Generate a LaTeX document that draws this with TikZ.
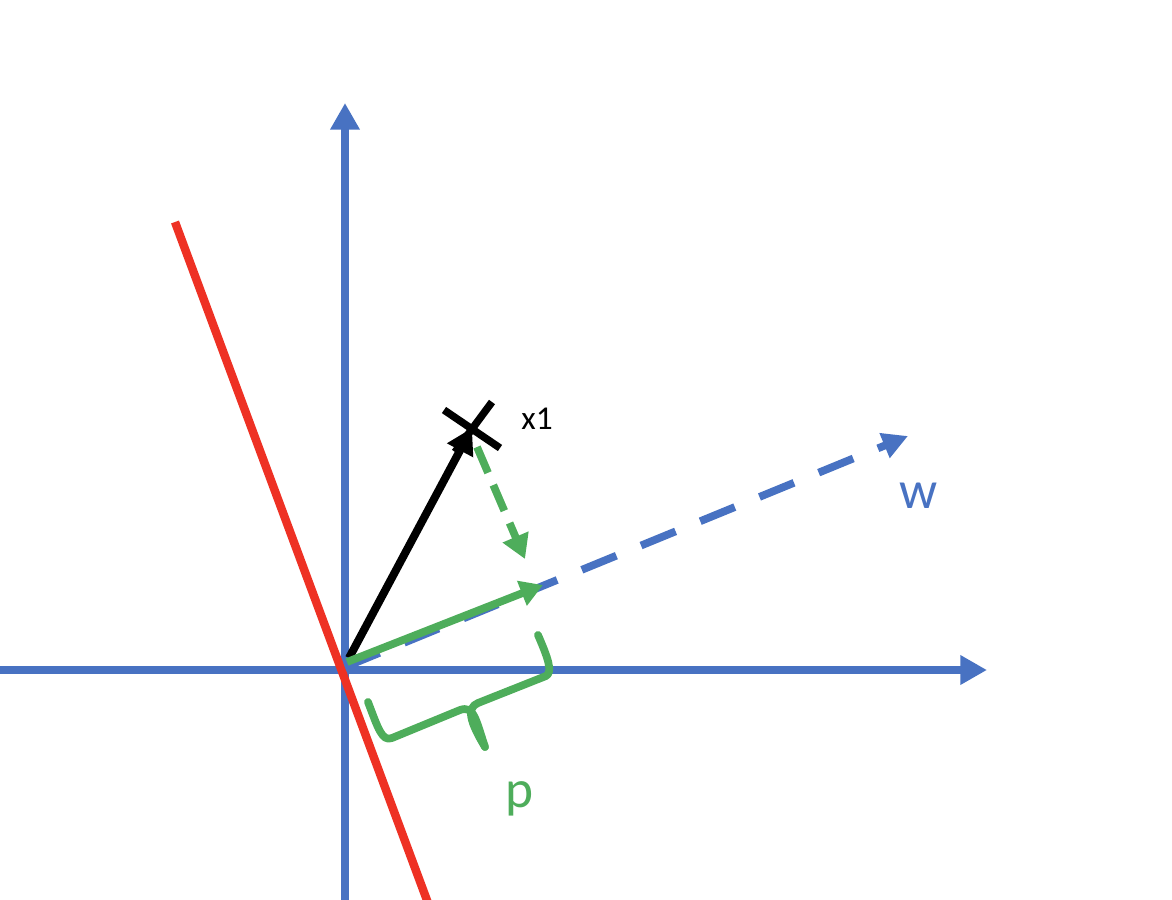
\documentclass[tikz,border=0pt]{standalone}
\usepackage{fontspec}
\setmainfont{Carlito}
\usepackage{tikz}
\usetikzlibrary{arrows.meta}

\definecolor{axisblue}{HTML}{4872C2}
\definecolor{projgreen}{HTML}{4EAD5B}
\definecolor{planered}{HTML}{EE3124}

\begin{document}
\begin{tikzpicture}[x=0.75pt, y=-0.75pt,
    axis/.style={draw=axisblue, line width=6.5pt, -{Triangle[length=20pt, width=21pt]}},
    wvec/.style={draw=axisblue, line width=5.8pt, dash pattern=on 28pt off 20pt, -{Triangle[length=19pt, width=19pt]}},
    xvec/.style={draw=black, line width=6pt, -{Triangle[length=19pt, width=21pt]}},
    proj/.style={draw=projgreen, line width=5.8pt, -{Triangle[length=17pt, width=19pt]}},
    drop/.style={draw=projgreen, line width=5.8pt, dash pattern=on 21pt off 10pt, -{Triangle[length=18pt, width=20pt]}},
    bracket/.style={draw=projgreen, line width=5.8pt, line cap=round, line join=round},
    lbl/.style={font=\fontsize{40}{48}\selectfont, anchor=base, inner sep=0pt}]
  \clip (0,0) rectangle (1172,900);
  % points
  \coordinate (O) at (345,670);
  \coordinate (x_b) at (0,670);
  \coordinate (x_e) at (987,670);
  \coordinate (y_b) at (345,900);
  \coordinate (y_e) at (345,103);
  \coordinate (X) at (472,428);
  \coordinate (W) at (908,436);
  \coordinate (P) at (543,585);
  \coordinate (D) at (525,559);
  % axes and separating line
  \draw[axis] (x_b) -- (x_e);
  \draw[axis] (y_b) -- (y_e);
  \draw[planered, line width=6.3pt] (175,222) -- (428,903);
  % vectors
  \draw[wvec] (345,667) -- (W);
  \draw[xvec] (349,658) -- (X);
  \draw[proj] (347,662) -- (P);
  \draw[drop] (477,447) -- (D);
  % point x1
  \draw[line width=5.6pt] (444,410) -- (500,448);
  \draw[line width=5.6pt] (492,402) -- (455,452);
  % bracket below w
  \draw[bracket] (368,702) .. controls (378,728) and (382,742) .. (392,738)
    -- (460,710) .. controls (474,705) and (476,720) .. (485,747);
  \draw[bracket] (538,635) .. controls (548,658) and (553,672) .. (546,676)
    -- (478,703) .. controls (466,708) and (470,722) .. (485,747);
  % labels
  \node[font=\fontsize{25}{30}\selectfont, anchor=base, inner sep=0pt] (x1) at (537,429) {x1};
  \node[lbl, text=axisblue] (w) at (919,508) {w};
  \node[lbl, text=projgreen] (p) at (520,807) {p};
\end{tikzpicture}
\end{document}
